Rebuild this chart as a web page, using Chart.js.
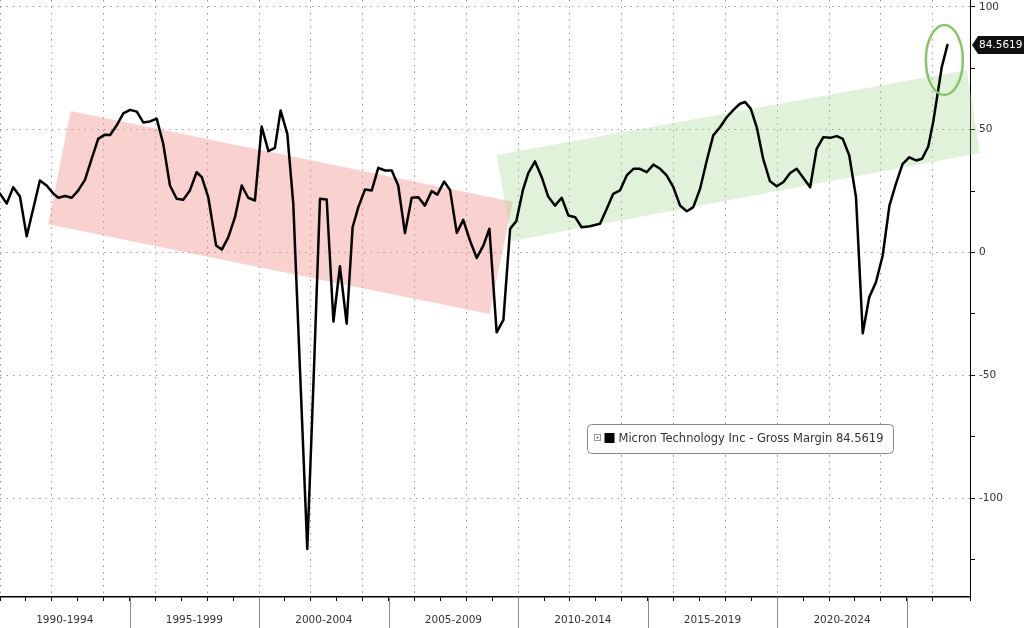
<!DOCTYPE html>
<html>
<head>
<meta charset="utf-8">
<script src="https://cdn.jsdelivr.net/npm/chart.js@4.4.1/dist/chart.umd.min.js"></script>
<style>
  html, body { margin: 0; padding: 0; background: #fff; }
  #wrap { width: 1024px; height: 628px; }
</style>
</head>
<body>
<div id="wrap"><canvas id="c" width="1024" height="628"></canvas></div>
<script>
// quarterly gross margin (%), x in decimal years
const years = [
  1990.00,1990.26,1990.51,1990.77,1991.03,1991.54,1991.80,1992.06,1992.25,1992.51,
  1992.77,1993.02,1993.28,1993.54,1993.79,1994.05,1994.25,1994.50,1994.76,1995.02,
  1995.28,1995.53,1995.79,1996.05,1996.30,1996.56,1996.82,1997.07,1997.33,1997.59,
  1997.79,1998.04,1998.34,1998.56,1998.81,1999.07,1999.33,1999.58,1999.84,2000.10,
  2000.36,2000.61,2000.83,2001.09,2001.32,2001.58,2001.86,2002.11,2002.35,2002.61,
  2002.87,2003.12,2003.38,2003.61,2003.83,2004.09,2004.35,2004.60,2004.86,2005.12,
  2005.37,2005.63,2005.89,2006.15,2006.40,2006.66,2006.88,2007.14,2007.37,2007.63,
  2007.88,2008.14,2008.40,2008.66,2008.89,2009.17,2009.43,2009.69,2009.93,2010.18,
  2010.39,2010.65,2010.91,2011.16,2011.42,2011.68,2011.94,2012.20,2012.45,2012.77,
  2013.16,2013.42,2013.67,2013.93,2014.19,2014.45,2014.70,2014.96,2015.22,2015.48,
  2015.73,2015.99,2016.25,2016.51,2016.76,2017.02,2017.28,2017.53,2017.79,2018.05,
  2018.31,2018.56,2018.76,2018.98,2019.21,2019.46,2019.72,2019.98,2020.24,2020.49,
  2020.75,2021.01,2021.27,2021.52,2021.78,2022.04,2022.30,2022.53,2022.78,2023.04,
  2023.30,2023.55,2023.81,2024.07,2024.33,2024.58,2024.84,2025.10,2025.36,2025.59,
  2025.83,2026.03,2026.22,2026.35,2026.57
];
const grossMargin = [
  24,20,26.6,22.8,6.6,29.3,27.3,24,22.3,23,
  22.3,25.3,29.6,38.2,46.3,48,47.9,51.7,56.7,58.1,
  57.4,53,53.4,54.5,44.3,27.3,21.9,21.5,25.3,32.7,
  30.7,22.5,2.9,1.2,6.2,14.4,27.3,22.3,21.2,51.3,
  41.3,42.6,57.8,48.3,19.8,-48,-120.7,-50,21.9,21.6,
  -28.1,-5.6,-29,10.3,18.5,25.7,25.3,34.5,33.4,33.4,
  27.3,7.9,22.3,22.5,19.1,25,23.6,28.9,25.5,8,
  13.3,4.9,-2.2,2.9,9.7,-32.5,-27.4,9.7,12.8,25.3,
  32.3,37.1,30.7,22.8,19.1,22.3,15.1,14.4,10.3,10.7,
  11.7,17.8,23.9,25.3,31.4,34.1,34.1,32.7,35.8,34.1,
  31.4,26.6,19.1,16.8,18.5,25.9,37.5,47.7,51,55.1,
  58.1,60.6,61.3,58.5,51,38,29,27,28.7,32.3,
  34.1,30.4,26.6,42.2,47,46.7,47.4,46.3,39.5,22.5,
  -32.9,-18.2,-12.1,-1.2,19.1,28,36.1,38.8,37.5,38.2,
  43.2,53.8,66.7,75.5,84.5619
];
const seriesName = 'Micron Technology Inc - Gross Margin';
const sectionStarts = [1990, 1995, 2000, 2005, 2010, 2015, 2020, 2025];
const sectionLabels = ['1990-1994', '1995-1999', '2000-2004', '2005-2009', '2010-2014', '2015-2019', '2020-2024'];
const redBand = [[1992.73, 57.6], [2009.79, 20.7], [2008.89, -25.0], [1991.86, 11.5]];
const greenBand = [[2009.17, 39.7], [2027.32, 74.3], [2027.82, 40.5], [2009.75, 4.7]];
const circleAt = [2026.45, 78.4];

const FONT = "'DejaVu Sans', sans-serif";

const bandsPlugin = {
  id: 'bands',
  beforeDatasetsDraw(chart) {
    const {ctx, scales: {x, y}} = chart;
    const poly = (pts, fill) => {
      ctx.beginPath();
      pts.forEach((p, i) => {
        const px = x.getPixelForValue(p[0]), py = y.getPixelForValue(p[1]);
        if (i === 0) ctx.moveTo(px, py); else ctx.lineTo(px, py);
      });
      ctx.closePath();
      ctx.fillStyle = fill;
      ctx.fill();
    };
    ctx.save();
    poly(redBand, 'rgba(240,140,135,0.4)');
    poly(greenBand, 'rgba(160,215,140,0.32)');
    ctx.restore();
  }
};

const extrasPlugin = {
  id: 'extras',
  afterDraw(chart) {
    const {ctx, chartArea: ca, scales: {x, y}} = chart;
    const vals = chart.data.datasets[0].data;
    const last = vals[vals.length - 1].y;
    ctx.save();

    // section separators + labels under the x axis
    ctx.strokeStyle = '#8a8a8a';
    ctx.lineWidth = 1;
    sectionStarts.forEach(s => {
      if (s === sectionStarts[0]) return;
      const px = Math.round(x.getPixelForValue(s)) + 0.5;
      ctx.beginPath();
      ctx.moveTo(px, ca.bottom);
      ctx.lineTo(px, chart.height);
      ctx.stroke();
    });
    ctx.fillStyle = '#333';
    ctx.font = '10.5px ' + FONT;
    ctx.textAlign = 'center';
    ctx.textBaseline = 'middle';
    sectionLabels.forEach((lab, i) => {
      const cx = (x.getPixelForValue(sectionStarts[i]) + x.getPixelForValue(sectionStarts[i + 1])) / 2;
      ctx.fillText(lab, cx, 620);
    });

    // green circle around the latest reading
    ctx.strokeStyle = 'rgb(135,196,100)';
    ctx.lineWidth = 2.5;
    ctx.beginPath();
    ctx.ellipse(x.getPixelForValue(circleAt[0]), y.getPixelForValue(circleAt[1]), 18.5, 35, 0, 0, Math.PI * 2);
    ctx.stroke();

    // last value tag on the right axis
    const ly = y.getPixelForValue(last);
    const bx = ca.right + 8;
    ctx.fillStyle = '#111';
    ctx.beginPath();
    ctx.moveTo(ca.right + 2, ly);
    ctx.lineTo(bx, ly - 9);
    ctx.lineTo(chart.width, ly - 9);
    ctx.lineTo(chart.width, ly + 9);
    ctx.lineTo(bx, ly + 9);
    ctx.closePath();
    ctx.fill();
    ctx.fillStyle = '#fff';
    ctx.font = '10.5px ' + FONT;
    ctx.textAlign = 'left';
    ctx.fillText(last.toFixed(4), bx + 1, ly + 0.5);

    // legend box
    const lx = ca.left + 587.5, ltop = 424.5, lw = 306, lh = 29;
    ctx.fillStyle = '#fff';
    ctx.strokeStyle = '#888';
    ctx.lineWidth = 1;
    ctx.beginPath();
    ctx.roundRect(lx, ltop, lw, lh, 4);
    ctx.fill();
    ctx.stroke();
    ctx.strokeStyle = '#999';
    ctx.strokeRect(lx + 7, ltop + 10, 6, 6);
    ctx.beginPath();
    ctx.moveTo(lx + 8.5, ltop + 13); ctx.lineTo(lx + 11.5, ltop + 13);
    ctx.moveTo(lx + 10, ltop + 11.5); ctx.lineTo(lx + 10, ltop + 14.5);
    ctx.stroke();
    ctx.fillStyle = '#000';
    ctx.fillRect(lx + 17, ltop + 8.5, 10, 10);
    ctx.fillStyle = '#333';
    ctx.font = '11.5px ' + FONT;
    ctx.fillText(seriesName + ' ' + last.toFixed(4), lx + 31, ltop + 14.5);
    ctx.restore();
  }
};

new Chart(document.getElementById('c'), {
  type: 'line',
  data: {
    datasets: [{
      label: seriesName,
      data: years.map((yr, i) => ({x: yr, y: grossMargin[i]})),
      borderColor: '#000',
      borderWidth: 2.5,
      pointRadius: 0,
      tension: 0,
      borderJoinStyle: 'round',
      borderCapStyle: 'round'
    }]
  },
  options: {
    responsive: false,
    animation: false,
    layout: { padding: 0 },
    plugins: { legend: { display: false }, tooltip: { enabled: false } },
    scales: {
      x: {
        type: 'linear',
        min: 1990,
        max: 2027.44,
        ticks: { display: false, stepSize: 1 },
        grid: {
          color: c => (c.tick && c.tick.value % 2 === 0) ? '#9a9a9a' : 'rgba(0,0,0,0)',
          tickColor: '#000',
          tickLength: 4
        },
        border: { color: '#000', width: 1.5, dash: [1.5, 5] },
        afterFit: s => { s.height = 31; s.paddingLeft = 0; s.paddingRight = 0; }
      },
      y: {
        position: 'right',
        min: -140.3,
        max: 102.85,
        ticks: {
          stepSize: 25,
          includeBounds: false,
          color: '#333',
          font: { size: 10.5, family: FONT },
          padding: 4,
          callback: v => (v % 50 === 0 ? v : '')
        },
        grid: {
          color: c => (c.tick && c.tick.value % 50 === 0) ? '#9a9a9a' : 'rgba(0,0,0,0)',
          tickColor: '#000',
          tickLength: 5
        },
        border: { color: '#000', width: 1, dash: [1.5, 5] },
        afterFit: s => { s.width = 54; s.paddingTop = 0; s.paddingBottom = 0; }
      }
    }
  },
  plugins: [bandsPlugin, extrasPlugin]
});
</script>
</body>
</html>
